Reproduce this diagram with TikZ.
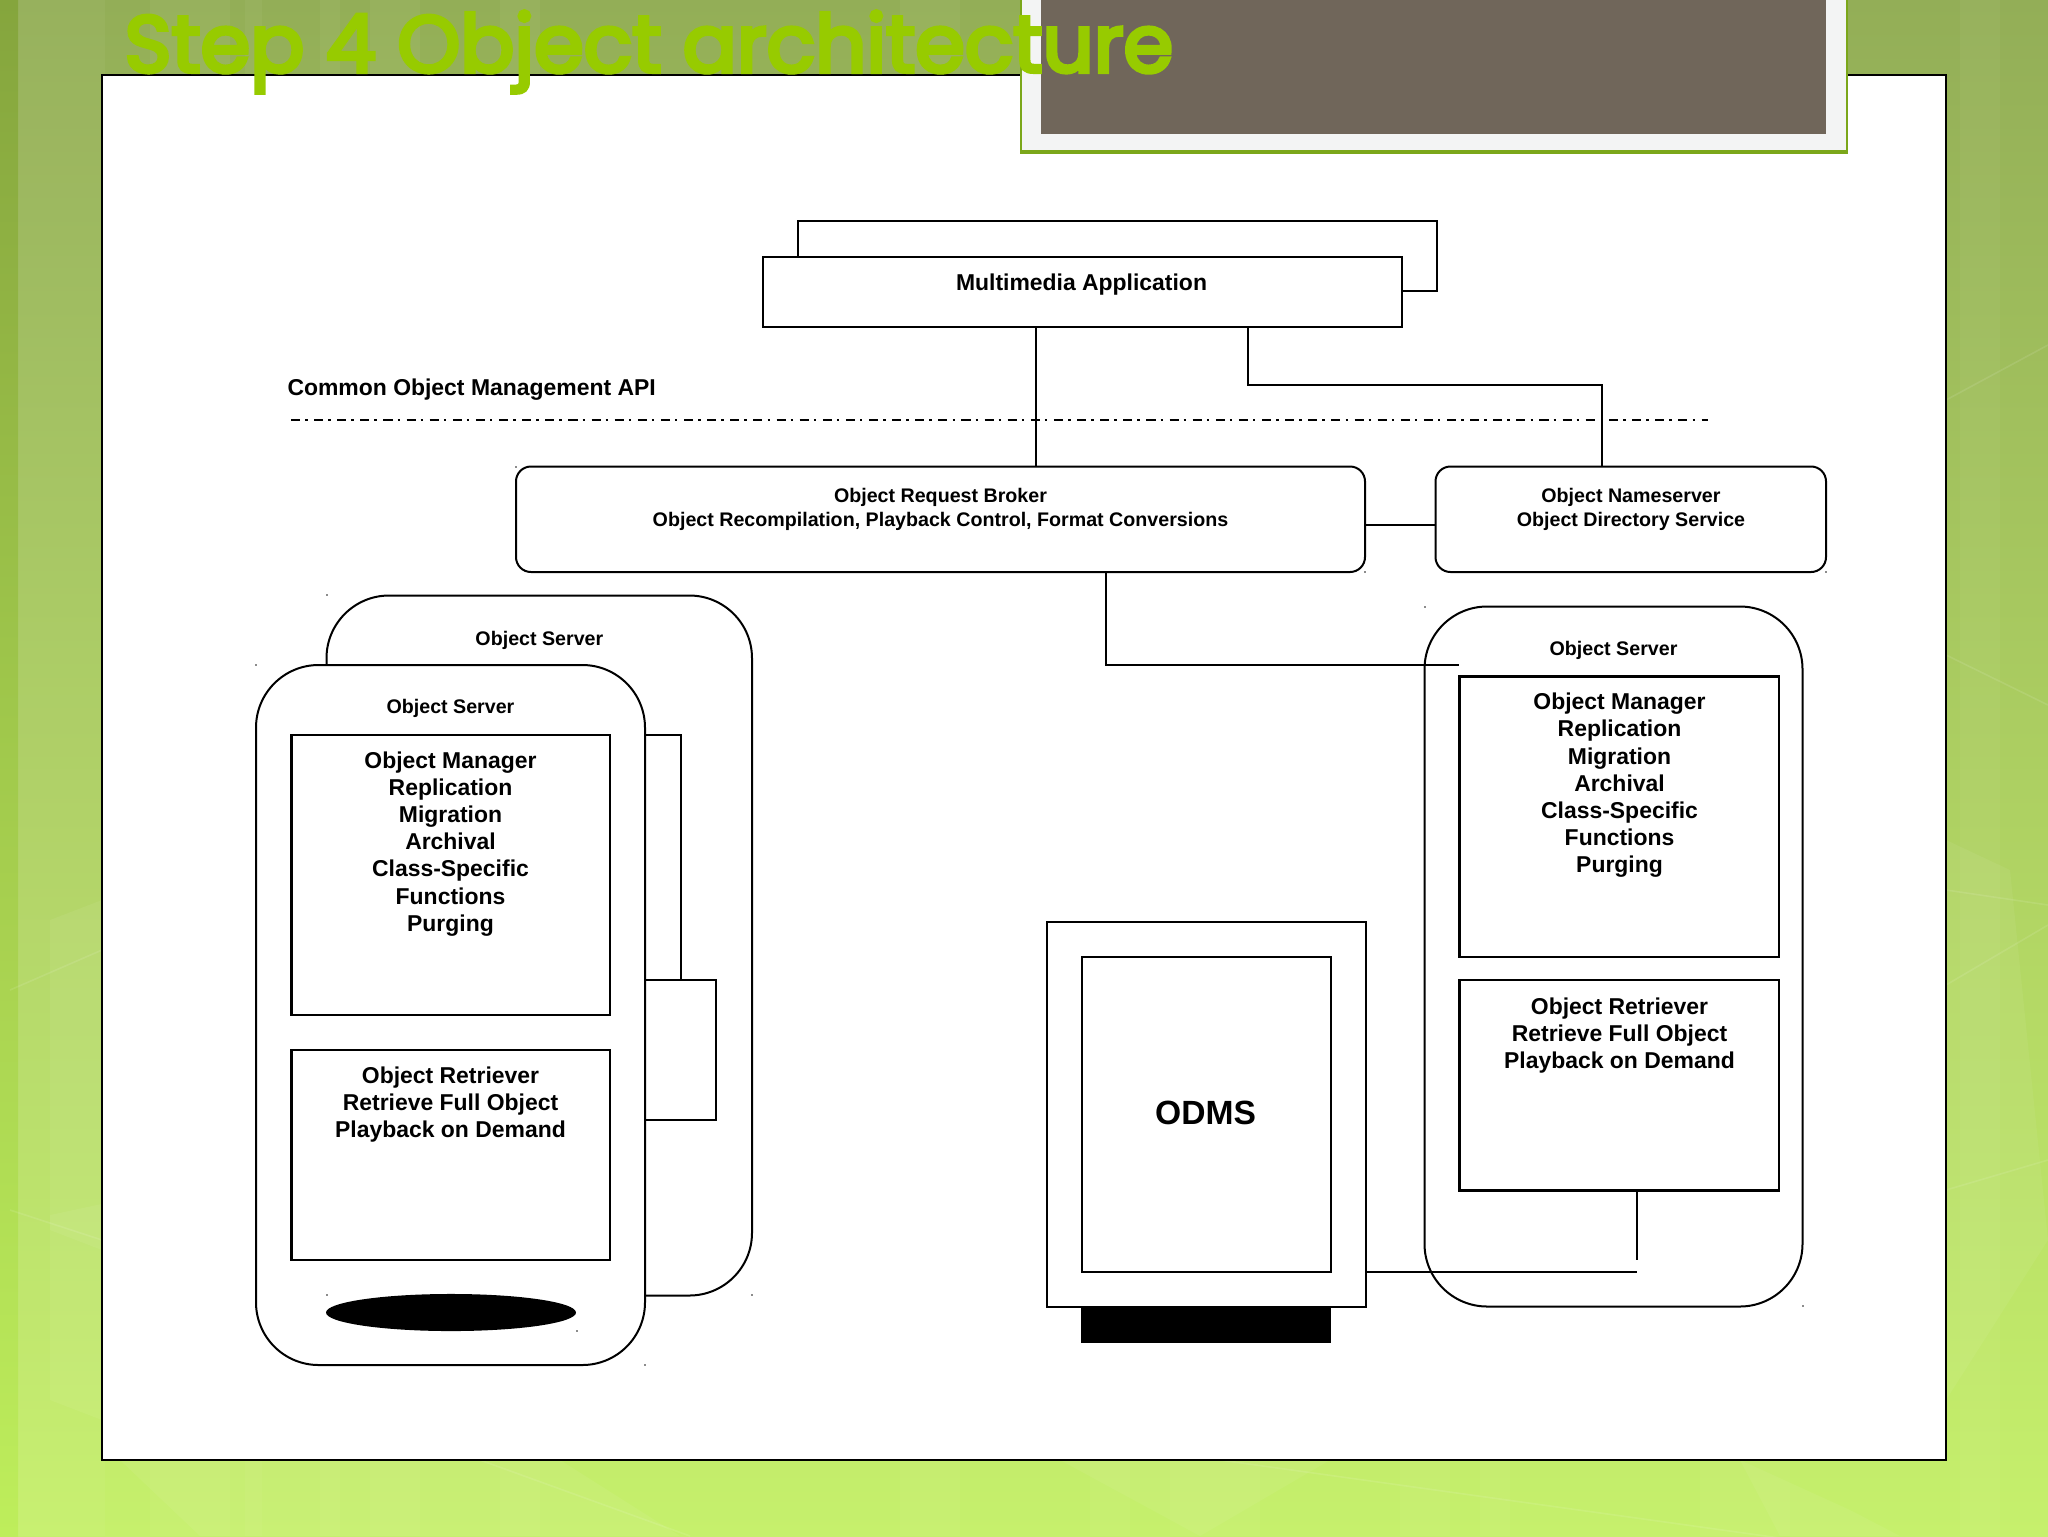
\documentclass[tikz,border=0pt]{standalone}
\usepackage{fontspec}
\usetikzlibrary{shapes.geometric}
\setmainfont{Liberation Sans}
\newfontfamily\titlefont[FakeBold=5]{Poppins}
\definecolor{bgtop}{HTML}{93AE57}
\definecolor{bgmid}{HTML}{ABCF64}
\definecolor{bgbot}{HTML}{C6F06C}
\definecolor{edgetop}{HTML}{80A233}
\definecolor{edgebot}{HTML}{BBEE55}
\definecolor{titlegreen}{HTML}{97CB00}
\definecolor{framegreen}{HTML}{7BA71A}
\definecolor{photogray}{HTML}{70665A}
\definecolor{matte}{HTML}{F3F4F4}
\tikzset{
  basebox/.style={draw=black,fill=white,line width=0.75pt,inner sep=0pt,outer sep=0pt,rectangle},
  thickbox/.style={basebox,line width=0.85pt},
  softbox/.style={basebox,rounded corners=5.6pt},
  serverbox/.style={basebox,rounded corners=23.5pt},
  conn/.style={draw=black,line width=0.75pt},
  apidash/.style={draw=black,line width=0.75pt,dash pattern=on 3.4pt off 1.9pt on 0.9pt off 2.47pt},
  big/.style={font=\fontsize{8.6}{10.2}\selectfont\bfseries,align=center,inner sep=0pt,yshift=-0.9pt},
  small/.style={font=\fontsize{7.37}{8.82}\selectfont\bfseries,align=center,inner sep=0pt,yshift=-0.9pt},
  facet/.style={fill=white,opacity=0.055,draw=none},
  streak/.style={draw=white,opacity=0.1,line width=0.6pt},
}
\newcommand\BX[6]{%
  \pgfmathsetlengthmacro\bxw{(#5-#3)*0.375pt}%
  \pgfmathsetlengthmacro\bxh{(#6-#4)*0.375pt}%
  \node[#1,anchor=north west,minimum width=\bxw,minimum height=\bxh] (#2) at (#3,#4) {};}
\newcommand\SPK[2]{\fill[black!45] (#1-1,#2-1) rectangle (#1+1,#2+1);}
\begin{document}
\begin{tikzpicture}[x=0.375pt,y=-0.375pt]
\useasboundingbox (0,0) rectangle (2048,1536);
% background
\shade[top color=bgtop,middle color=bgmid,bottom color=bgbot] (0,0) rectangle (2048,1536);
\shade[top color=edgetop,bottom color=edgebot,opacity=0.7] (0,0) rectangle (18,1536);
\foreach \xa/\xb in {18/68,68/105,150/230,245/262,320/340,370/420,500/540,900/960,1090/1130,1170/1260,1400/1450,1480/1510,1700/1790,1960/2000}
  \fill[white,opacity=0.04] (\xa,0) rectangle (\xb,1536);
\fill[facet] (50,1215) -- (120,1200) -- (102,1420) -- (50,1400) -- cycle;
\fill[facet] (50,920) -- (102,900) -- (102,1250) -- (50,1230) -- cycle;
\fill[facet] (1946,840) -- (2010,870) -- (2048,1240) -- (1946,1400) -- cycle;
\fill[facet] (120,1460) -- (560,1460) -- (680,1536) -- (200,1536) -- cycle;
\fill[facet] (1060,1460) -- (1330,1460) -- (1200,1536) -- cycle;
\fill[facet] (1740,1460) -- (1850,1510) -- (1900,1536) -- (1780,1536) -- cycle;
\draw[streak] (1946,400) -- (2048,345);
\draw[streak] (1946,655) -- (2048,705);
\draw[streak] (1946,890) -- (2048,905);
\draw[streak] (1946,985) -- (2048,925);
\draw[streak] (1946,1190) -- (2048,1160);
\draw[streak] (1220,1460) -- (1830,1545);
\draw[streak] (480,1460) -- (690,1536);
\draw[streak] (10,990) -- (102,950);
\draw[streak] (10,1210) -- (102,1240);
% slide panel
\BX{basebox}{panel}{102}{74.5}{1945.5}{1460}
% photo placeholder
\BX{basebox,draw=framegreen,fill=matte}{matteBox}{1021}{-10}{1847}{152}
\fill[framegreen] (1020,149.5) rectangle (1848,153.5);
\BX{basebox,draw=none,fill=photogray}{photo}{1041}{-10}{1826}{134}
% application
\BX{basebox}{appback}{798}{221}{1437}{291}
\BX{basebox}{app}{763}{256.5}{1401.5}{326.5}
\node[big] (appText) at (1081.5,282) {Multimedia Application};
% API
\node[big,anchor=west] (apiText) at (287,387) {Common Object Management API};
\coordinate (apiL) at (291,419.5);
\coordinate (apiM) at (1595,419.5);
\coordinate (apiN) at (1609,419.5);
\coordinate (apiR) at (1708,419.5);
\draw[apidash] (apiL) -- (apiM);
\draw[apidash] (apiN) -- (apiR);
% middle tier
\BX{softbox}{orb}{516}{466.5}{1365}{572}
\BX{softbox}{names}{1435.5}{466.5}{1826}{572}
\node[small] (orbText) at (940.5,507) {Object Request Broker\\Object Recompilation, Playback Control, Format Conversions};
\node[small] (namesText) at (1631,507) {Object Nameserver\\Object Directory Service};
\coordinate (cA) at (1035.5,400);
\coordinate (cB) at (1247.5,384.5);
\coordinate (cC) at (1601.5,384.5);
\coordinate (cE) at (1106,665);
\coordinate (cF) at (1459,665);
\coordinate (cG) at (1400,525);
\draw[conn] (app.south -| cA) -- (orb.north -| cA);
\draw[conn] (app.south -| cB) -- (cB) -- (cC) -- (names.north -| cC);
\draw[conn] (orb.east |- cG) -- (names.west |- cG);
% back server
\BX{serverbox}{srvB}{326.5}{595.5}{752}{1295.5}
\BX{thickbox}{mgrB}{330}{735}{681}{980}
\BX{thickbox}{retB}{365}{980}{716}{1120}
\node[small] (srvBText) at (539.4,637.7) {Object Server};
% front server
\BX{serverbox}{srvF}{256}{665}{645}{1365}
\BX{thickbox}{mgrF}{291.5}{735}{610}{1015}
\BX{thickbox}{retF}{291.5}{1050}{610}{1260}
\node[small] (srvFText) at (450.5,705.7) {Object Server};
\node[big] (mgrFText) at (450.5,841.5) {Object Manager\\Replication\\Migration\\Archival\\Class-Specific\\Functions\\Purging};
\node[big] (retFText) at (450.5,1102.2) {Object Retriever\\Retrieve Full Object\\Playback on Demand};
\node[draw=none,fill=black,ellipse,minimum width=93.75pt,minimum height=13.9pt,inner sep=0pt,outer sep=0pt] (diskF) at (451,1312.5) {};
% right server
\BX{serverbox}{srvR}{1424.5}{606.5}{1802.5}{1306.5}
\BX{thickbox}{mgrR}{1459.5}{676.5}{1779}{957}
\BX{thickbox}{retR}{1459.5}{980}{1779}{1190.5}
\node[small] (srvRText) at (1613.5,647.7) {Object Server};
\node[big] (mgrRText) at (1619.5,783) {Object Manager\\Replication\\Migration\\Archival\\Class-Specific\\Functions\\Purging};
\node[big] (retRText) at (1619.5,1033) {Object Retriever\\Retrieve Full Object\\Playback on Demand};
\draw[conn] (orb.south -| cE) -- (cE) -- (cF);
% ODMS
\BX{basebox}{odmsOut}{1047}{922}{1366}{1306.5}
\BX{basebox}{odmsIn}{1082}{957}{1330.5}{1272}
\BX{basebox,draw=none,fill=black}{odmsBase}{1081}{1307.5}{1331}{1342.5}
\node[font=\fontsize{12.6}{15}\selectfont\bfseries,inner sep=0pt] (odmsText) at (1205.5,1112.5) {ODMS};
\coordinate (cH) at (1637,1260);
\coordinate (cI) at (1637,1272);
\draw[conn] (retR.south -| cH) -- (cH);
\draw[conn] (odmsOut.east |- cI) -- (cI);
% specks
\SPK{327}{595}\SPK{256}{665}\SPK{752}{1295}\SPK{327}{1295}\SPK{576.5}{1331}\SPK{645}{1365}
\SPK{1424.5}{607}\SPK{1802.5}{1306}\SPK{1826}{572}\SPK{1365}{572}\SPK{516}{467}
% title
\node[anchor=base west,inner sep=0pt,text=titlegreen,font=\titlefont\fontsize{30}{36}\selectfont] (titleText) at (124,72) {Step 4 Object architecture};
\end{tikzpicture}
\end{document}
